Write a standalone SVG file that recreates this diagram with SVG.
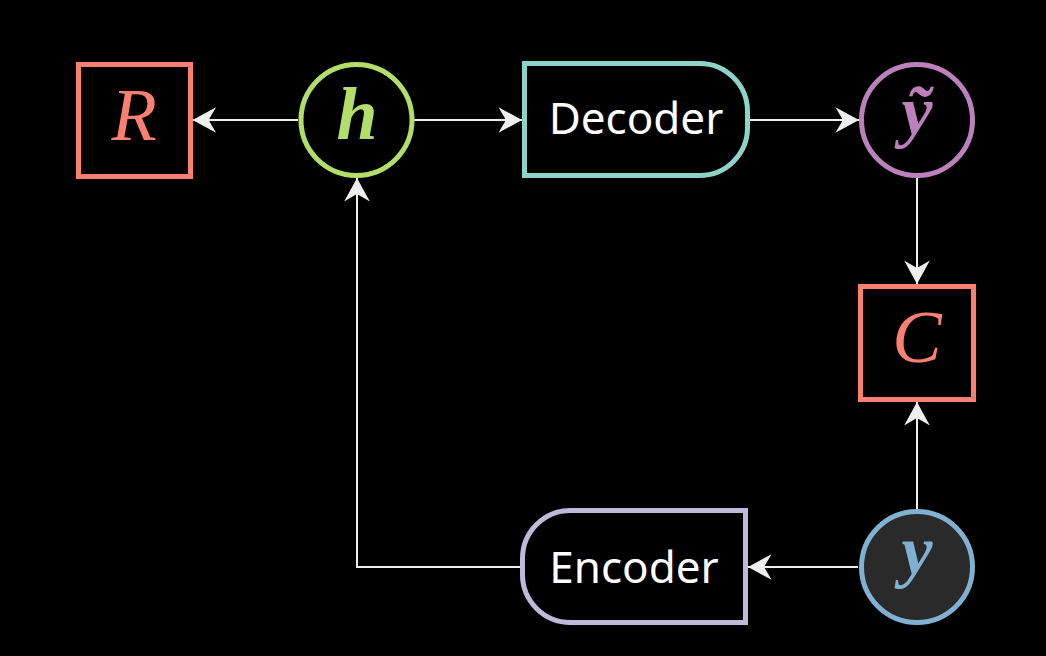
<svg xmlns="http://www.w3.org/2000/svg" width="1046" height="656" viewBox="0 0 1046 656">
<style>
.bg{fill:#000}
.edge{stroke:#eeeeee;stroke-width:2;fill:none}
.box{fill:#000;stroke:#fb8072;stroke-width:5}
.circ{fill:#000;stroke-width:5}
.lbl{font-family:"Noto Sans","Open Sans",sans-serif;font-size:44px;fill:#fff;text-anchor:middle}
.math{font-family:"Liberation Serif","DejaVu Serif",serif;font-style:italic;text-anchor:middle}
</style>
<defs>
<marker id="arr" markerUnits="userSpaceOnUse" markerWidth="30" markerHeight="30" viewBox="-24 -14 26 28" refX="0" refY="0" orient="auto">
<path d="M0,0 L-22,-12 L-15,0 L-22,12 Z" fill="#eeeeee"/>
</marker>
</defs>
<rect class="bg" x="0" y="0" width="1046" height="656"/>
<g id="connectors">
<line class="edge" x1="298" y1="120" x2="192.5" y2="120" marker-end="url(#arr)"/>
<line class="edge" x1="414" y1="120" x2="522" y2="120" marker-end="url(#arr)"/>
<line class="edge" x1="750" y1="120" x2="859" y2="120" marker-end="url(#arr)"/>
<line class="edge" x1="917" y1="178" x2="917" y2="284" marker-end="url(#arr)"/>
<line class="edge" x1="917" y1="509" x2="917" y2="402" marker-end="url(#arr)"/>
<line class="edge" x1="858" y1="567" x2="748" y2="567" marker-end="url(#arr)"/>
<polyline class="edge" points="520,567 357,567 357,178" marker-end="url(#arr)"/>
</g>
<g id="R">
<rect class="box" x="78.5" y="64.5" width="112" height="112"/>
<text class="math" x="134" y="140" font-size="74" fill="#fb8072">R</text>
</g>
<g id="h">
<circle class="circ" cx="356.5" cy="120" r="55.5" stroke="#b3de69"/>
<text class="math" x="357" y="139" font-size="74" font-weight="bold" fill="#b3de69">h</text>
</g>
<g id="decoder">
<path d="M524.5,63.5 H699.5 A48,48 0 0 1 747.5,111.5 V127.5 A48,48 0 0 1 699.5,175.5 H524.5 Z" fill="#000" stroke="#8dd3c7" stroke-width="5"/>
<text class="lbl" x="636" y="134">Decoder</text>
</g>
<g id="ytilde">
<circle class="circ" cx="917" cy="120" r="55.5" stroke="#bc80bd"/>
<text class="math" x="917" y="134" font-size="70" font-weight="bold" fill="#bc80bd">ỹ</text>
</g>
<g id="C">
<rect class="box" x="860.5" y="286.5" width="113" height="113"/>
<text class="math" x="917" y="362" font-size="74" fill="#fb8072">C</text>
</g>
<g id="encoder">
<path d="M745.5,510.5 V622.5 H570.5 A48,48 0 0 1 522.5,574.5 V558.5 A48,48 0 0 1 570.5,510.5 Z" fill="#000" stroke="#bebada" stroke-width="5"/>
<text class="lbl" x="634" y="583">Encoder</text>
</g>
<g id="y">
<circle cx="917" cy="567" r="55.5" fill="#2a2a2a" stroke="#80b1d3" stroke-width="5"/>
<text class="math" x="917" y="574" font-size="70" font-weight="bold" fill="#80b1d3">y</text>
</g>
</svg>
